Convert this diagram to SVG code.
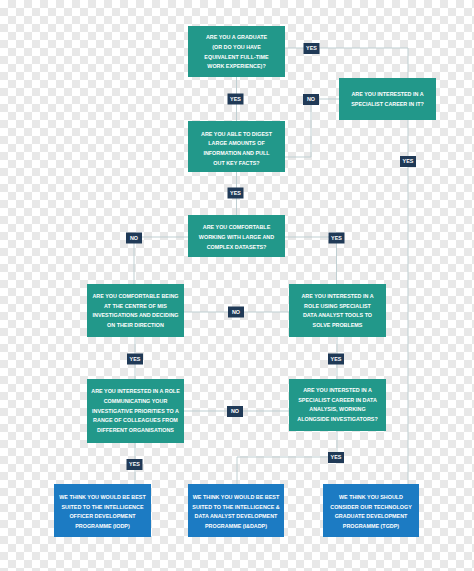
<svg xmlns="http://www.w3.org/2000/svg" width="474" height="571" viewBox="0 0 474 571">
<defs>
<pattern id="chk" width="16" height="16" patternUnits="userSpaceOnUse">
<rect width="16" height="16" fill="#ffffff"/>
<rect x="8" y="0" width="8" height="8" fill="#e8e8e8"/>
<rect x="0" y="8" width="8" height="8" fill="#e8e8e8"/>
</pattern>
</defs>
<style>
.q{fill:#22988a}
.p{fill:#1c7bc3}
.b{fill:#203a57}
.t{font-family:"Liberation Sans",Arial,sans-serif;font-weight:bold;font-size:5.4px;fill:#ffffff;text-anchor:middle}
.bt{font-family:"Liberation Sans",Arial,sans-serif;font-weight:bold;font-size:5.4px;fill:#ffffff;text-anchor:middle}
.c{fill:none;stroke:#bfcfd2;stroke-width:1}
</style>
<rect width="474" height="571" fill="url(#chk)"/>
<g id="connectors">
<path class="c" d="M285,48 H408 V484"/>
<path class="c" d="M236.5,77 V121"/>
<path class="c" d="M339,99 H311 V157 H285"/>
<path class="c" d="M236.5,172 V215"/>
<path class="c" d="M188,237 H134 V284"/>
<path class="c" d="M285,237 H336.5 V284"/>
<path class="c" d="M184,312 H289"/>
<path class="c" d="M135,337 V379"/>
<path class="c" d="M337,337 V379"/>
<path class="c" d="M184,411 H289"/>
<path class="c" d="M135,443 V484"/>
<path class="c" d="M337,431 V457 H237 V484"/>
</g>
<g id="n1"><rect class="q" x="188" y="26" width="97" height="51"/>
<text class="t" x="236.5" y="39.4">ARE YOU A GRADUATE</text>
<text class="t" x="236.5" y="49.1">(OR DO YOU HAVE</text>
<text class="t" x="236.5" y="58.7">EQUIVALENT FULL-TIME</text>
<text class="t" x="236.5" y="68.4">WORK EXPERIENCE)?</text></g>
<g id="n2"><rect class="q" x="339" y="78" width="97" height="42"/>
<text class="t" x="387.5" y="96.3">ARE YOU INTERESTED IN A</text>
<text class="t" x="387.5" y="105.9">SPECIALIST CAREER IN IT?</text></g>
<g id="n3"><rect class="q" x="188" y="121" width="97" height="51"/>
<text class="t" x="236.5" y="135.6">ARE YOU ABLE TO DIGEST</text>
<text class="t" x="236.5" y="145.2">LARGE AMOUNTS OF</text>
<text class="t" x="236.5" y="154.9">INFORMATION AND PULL</text>
<text class="t" x="236.5" y="164.5">OUT KEY FACTS?</text></g>
<g id="n4"><rect class="q" x="188" y="215" width="97" height="42"/>
<text class="t" x="236.5" y="229.2">ARE YOU COMFORTABLE</text>
<text class="t" x="236.5" y="238.9">WORKING WITH LARGE AND</text>
<text class="t" x="236.5" y="248.6">COMPLEX DATASETS?</text></g>
<g id="n5"><rect class="q" x="87" y="284" width="97" height="53"/>
<text class="t" x="135.5" y="297.9">ARE YOU COMFORTABLE BEING</text>
<text class="t" x="135.5" y="307.6">AT THE CENTRE OF MIS</text>
<text class="t" x="135.5" y="317.2">INVESTIGATIONS AND DECIDING</text>
<text class="t" x="135.5" y="326.9">ON THEIR DIRECTION</text></g>
<g id="n6"><rect class="q" x="289" y="284" width="97" height="53"/>
<text class="t" x="337.5" y="297.9">ARE YOU INTERESTED IN A</text>
<text class="t" x="337.5" y="307.6">ROLE USING SPECIALIST</text>
<text class="t" x="337.5" y="317.2">DATA ANALYST TOOLS TO</text>
<text class="t" x="337.5" y="326.9">SOLVE PROBLEMS</text></g>
<g id="n7"><rect class="q" x="87" y="379" width="97" height="64"/>
<text class="t" x="135.5" y="393.2">ARE YOU INTERESTED IN A ROLE</text>
<text class="t" x="135.5" y="402.9">COMMUNICATING YOUR</text>
<text class="t" x="135.5" y="412.6">INVESTIGATIVE PRIORITIES TO A</text>
<text class="t" x="135.5" y="422.3">RANGE OF COLLEAGUES FROM</text>
<text class="t" x="135.5" y="432">DIFFERENT ORGANISATIONS</text></g>
<g id="n8"><rect class="q" x="289" y="379" width="97" height="52"/>
<text class="t" x="337.5" y="391.9">ARE YOU INTERSTED IN A</text>
<text class="t" x="337.5" y="401.6">SPECIALIST CAREER IN DATA</text>
<text class="t" x="337.5" y="411.2">ANALYSIS, WORKING</text>
<text class="t" x="337.5" y="420.9">ALONGSIDE INVESTIGATORS?</text></g>
<g id="n9"><rect class="p" x="54" y="484" width="97" height="53"/>
<text class="t" x="102.5" y="498.9">WE THINK YOU WOULD BE BEST</text>
<text class="t" x="102.5" y="508.6">SUITED TO THE INTELLIGENCE</text>
<text class="t" x="102.5" y="518.2">OFFICER DEVELOPMENT</text>
<text class="t" x="102.5" y="527.9">PROGRAMME (IODP)</text></g>
<g id="n10"><rect class="p" x="188" y="484" width="96" height="53"/>
<text class="t" x="236" y="498.9">WE THINK YOU WOULD BE BEST</text>
<text class="t" x="236" y="508.6">SUITED TO THE INTELLIGENCE &amp;</text>
<text class="t" x="236" y="518.2">DATA ANALYST DEVELOPMENT</text>
<text class="t" x="236" y="527.9">PROGRAMME (I&amp;DADP)</text></g>
<g id="n11"><rect class="p" x="323" y="484" width="96" height="53"/>
<text class="t" x="371" y="498.9">WE THINK YOU SHOULD</text>
<text class="t" x="371" y="508.6">CONSIDER OUR TECHNOLOGY</text>
<text class="t" x="371" y="518.2">GRADUATE DEVELOPMENT</text>
<text class="t" x="371" y="527.9">PROGRAMME (TGDP)</text></g>
<g id="labels">
<g id="l1"><rect class="b" x="303.5" y="43" width="16" height="11"/><text class="bt" x="311.5" y="50.4">YES</text></g>
<g id="l2"><rect class="b" x="227.5" y="93.5" width="16" height="11"/><text class="bt" x="235.5" y="100.9">YES</text></g>
<g id="l3"><rect class="b" x="303" y="94" width="16" height="11"/><text class="bt" x="311" y="101.4">NO</text></g>
<g id="l4"><rect class="b" x="400" y="156" width="16" height="11"/><text class="bt" x="408" y="163.4">YES</text></g>
<g id="l5"><rect class="b" x="227.5" y="187.5" width="16" height="11"/><text class="bt" x="235.5" y="194.9">YES</text></g>
<g id="l6"><rect class="b" x="126" y="232.5" width="16" height="11"/><text class="bt" x="134" y="239.9">NO</text></g>
<g id="l7"><rect class="b" x="328.5" y="232.5" width="16" height="11"/><text class="bt" x="336.5" y="239.9">YES</text></g>
<g id="l8"><rect class="b" x="228" y="306.5" width="16" height="11"/><text class="bt" x="236" y="313.9">NO</text></g>
<g id="l9"><rect class="b" x="127" y="353.5" width="16" height="11"/><text class="bt" x="135" y="360.9">YES</text></g>
<g id="l10"><rect class="b" x="328" y="353.5" width="16" height="11"/><text class="bt" x="336" y="360.9">YES</text></g>
<g id="l11"><rect class="b" x="227" y="406" width="16" height="11"/><text class="bt" x="235" y="413.4">NO</text></g>
<g id="l12"><rect class="b" x="126.5" y="459" width="16" height="11"/><text class="bt" x="134.5" y="466.4">YES</text></g>
<g id="l13"><rect class="b" x="328" y="452" width="16" height="11"/><text class="bt" x="336" y="459.4">YES</text></g>
</g>
</svg>
